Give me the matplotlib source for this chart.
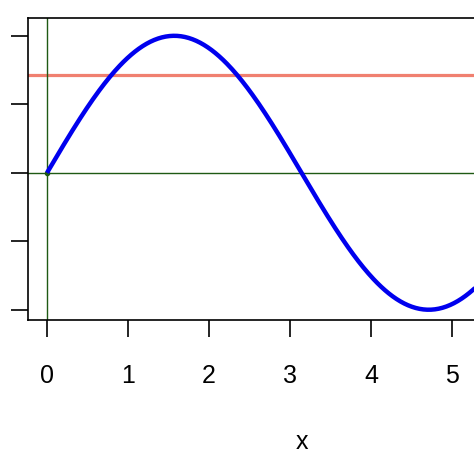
import numpy as np
import matplotlib
matplotlib.use("Agg")
import matplotlib.pyplot as plt

plt.rcParams['font.family'] = ['Liberation Sans', 'DejaVu Sans']

x = np.linspace(0, 2*np.pi, 400)
y = np.sin(x)
hline_red = 0.715
xticks = [0, 1, 2, 3, 4, 5, 6]
yticks = [-1, -0.5, 0, 0.5, 1]

fig = plt.figure(figsize=(4.74, 4.74), dpi=100)
W = H = 474
ax = fig.add_axes([28/W, 1-320/H, (576-28)/W, (320-18)/H])
ax.set_xlim(-0.235, 6.53)
ax.set_ylim(-1.075, 1.13)
ax.plot(x, y, color='#0000ee', lw=3.2, solid_capstyle='butt', zorder=3)
ax.axhline(hline_red, color='#f08070', lw=2.3)
ax.axhline(0, color='#1f5a14', lw=1.0)
ax.axvline(0, color='#1f5a14', lw=1.0)
ax.plot([0], [0], 'o', color='#1f5a14', ms=3)
ax.set_xticks(xticks)
ax.set_yticks(yticks)
ax.set_yticklabels([])
ax.tick_params(axis='x', length=12, width=1.2, labelsize=18, pad=20)
ax.tick_params(axis='y', length=12, width=1.2)
for s in ax.spines.values():
    s.set_linewidth(1.2)
ax.set_xlabel('x', fontsize=18, labelpad=30)
fig.savefig('out.png', dpi=100)
